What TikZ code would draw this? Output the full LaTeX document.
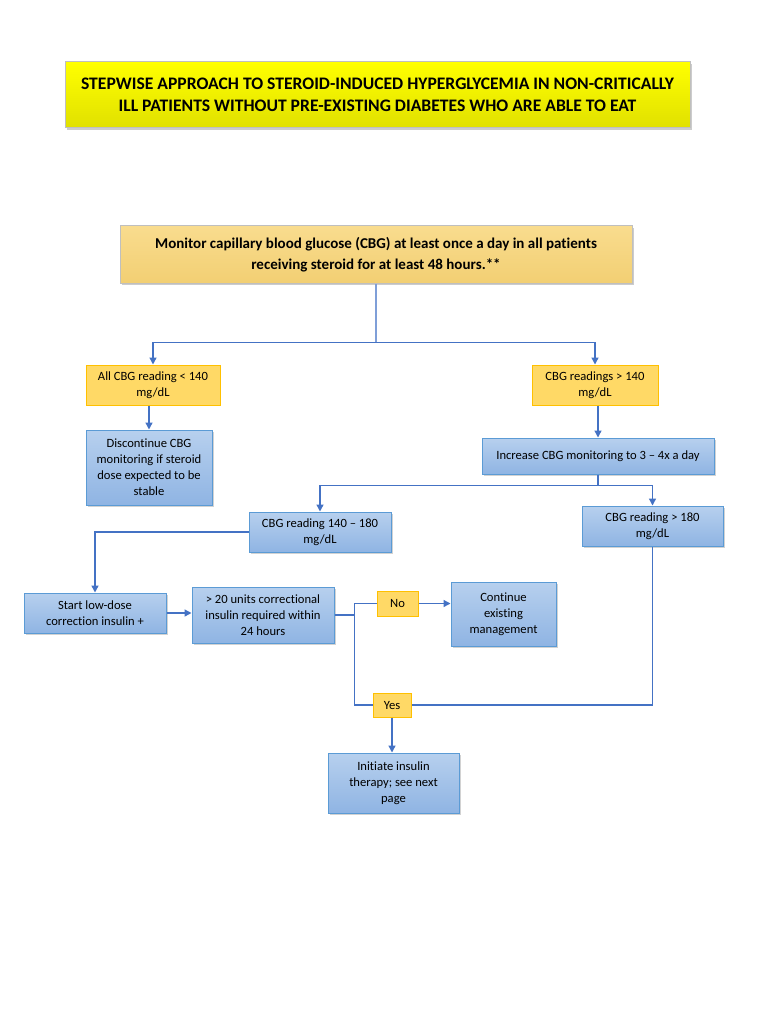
\documentclass[tikz,border=0pt]{standalone}
\usepackage{fontspec}
\setmainfont{Carlito}[Ligatures=NoCommon]
\usetikzlibrary{arrows.meta,shadows}
\definecolor{lineblue}{HTML}{4472C4}
\definecolor{paleline}{HTML}{7F9FD8}
\definecolor{blueedge}{HTML}{5B9BD5}
\definecolor{bluetop}{HTML}{B7D0EE}
\definecolor{bluebot}{HTML}{8FB4E3}
\definecolor{goldfill}{HTML}{FFD966}
\definecolor{goldedge}{HTML}{FFC000}
\definecolor{headfill}{HTML}{F9DC8E}
\definecolor{headbot}{HTML}{F2CF73}
\begin{document}
\begin{tikzpicture}[x=1pt, y=-1pt, >={Triangle[width=7pt,length=7pt]}, line width=1.4pt,
  main node/.style={rectangle, align=center, inner sep=2pt, font=\fontsize{12.6}{16}\selectfont},
  blue node/.style={main node, draw=blueedge, line width=1pt, top color=bluetop, bottom color=bluebot,
    drop shadow={opacity=0.35, shadow xshift=2pt, shadow yshift=-2pt}},
  gold node/.style={main node, draw=goldedge, line width=1pt, fill=goldfill},
  link/.style={draw=lineblue, line width=1.4pt}]%
\fill[white] (0,0) rectangle (768,1024);
\useasboundingbox (0,0) rectangle (768,1024);
\node[main node, draw=black!25, line width=1pt, top color=yellow, bottom color=yellow!88!black,
  drop shadow={opacity=0.4, shadow xshift=1.5pt, shadow yshift=-2pt},
  minimum width=625pt, minimum height=66pt, font=\bfseries\fontsize{17.6}{22}\selectfont] (title) at (377.5,95)
  {STEPWISE APPROACH TO STEROID-INDUCED HYPERGLYCEMIA IN NON-CRITICALLY\\ILL PATIENTS WITHOUT PRE-EXISTING DIABETES WHO ARE ABLE TO EAT};
\node[main node, draw=black!25, line width=1pt, top color=headfill, bottom color=headbot,
  drop shadow={opacity=0.4, shadow xshift=1.5pt, shadow yshift=-2pt},
  minimum width=512pt, minimum height=57pt, font=\bfseries\fontsize{15}{21}\selectfont] (start) at (376,254.5)
  {Monitor capillary blood glucose (CBG) at least once a day in all patients\\receiving steroid for at least 48 hours.**};
\node[gold node, minimum width=134pt, minimum height=40pt] (low) at (153,385) {All CBG reading < 140\\mg/dL};
\node[blue node, minimum width=126pt, minimum height=75pt] (stop) at (149,467.5) {Discontinue CBG\\monitoring if steroid\\dose expected to be\\stable};
\node[gold node, minimum width=126pt, minimum height=40pt] (high) at (595,385) {CBG readings > 140\\mg/dL};
\node[blue node, minimum width=232pt, minimum height=36pt] (more) at (598,456) {Increase CBG monitoring to 3 – 4x a day};
\node[blue node, minimum width=142pt, minimum height=40pt] (mid) at (320,532) {CBG reading 140 – 180\\mg/dL};
\node[blue node, minimum width=141pt, minimum height=40pt] (top) at (652.5,526) {CBG reading > 180\\mg/dL};
\node[blue node, minimum width=142pt, minimum height=40pt] (corr) at (95,613) {Start low-dose\\correction insulin +};
\node[blue node, minimum width=142pt, minimum height=56pt] (units) at (263,615) {> 20 units correctional\\insulin required within\\24 hours};
\node[gold node, minimum width=41pt, minimum height=25pt] (no) at (397.5,603.5) {No};
\node[blue node, minimum width=105pt, minimum height=64pt] (keep) at (503.5,614) {Continue\\existing\\management};
\node[gold node, minimum width=38pt, minimum height=24pt] (yes) at (392,705) {Yes};
\node[blue node, minimum width=131pt, minimum height=60pt] (insulin) at (393.5,783) {Initiate insulin\\therapy; see next\\page};
%\node[blue node] () at (,) {};
\begin{scope}[every path/.style={link}]
\draw[draw=paleline] (start.south) -- ++(0,59) coordinate (split);
\draw[->] (split) -| (low.north);
\draw[->] (split) -| (high.north);
\draw[->] (stop.north |- low.south) -- (stop.north);
\draw[->] (more.north |- high.south) -- (more.north);
\draw (more.south) -- ++(0,11) coordinate (split2);
\draw[->] (split2) -| (mid.north);
\draw[->] (split2) -| (top.north);
\draw[->] (mid.west) -| (corr.north);
\draw[->] (corr.east) -- (corr.east -| units.west);
\draw (units.east) -- ++(20,0) coordinate (fork);
\draw (no.west) -| (fork) |- (yes.west);
\draw[->] (no.east) -- (no.east -| keep.west);
\draw (top.south) |- (yes.east);
\draw[->] (yes.south) -- (yes.south |- insulin.north);
\end{scope}
\end{tikzpicture}
\end{document}
